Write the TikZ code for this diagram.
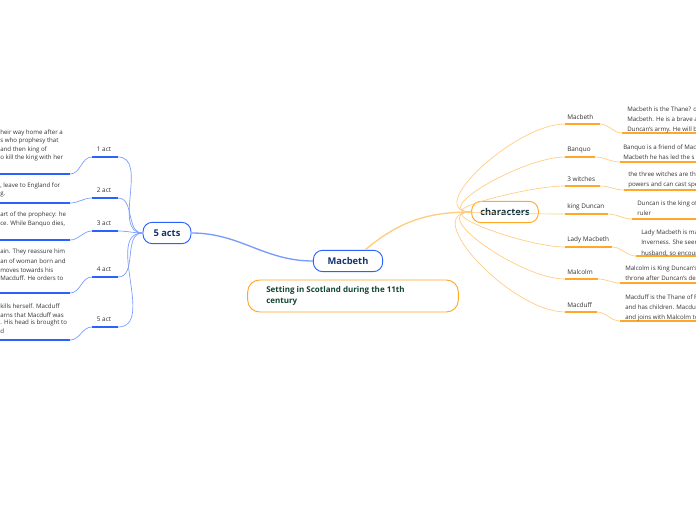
\documentclass[tikz,border=0pt]{standalone}
\usepackage{fontspec}
\setmainfont{Open Sans}
\begin{document}
\begin{tikzpicture}[x=0.75pt,y=-0.75pt,
 txt/.style={font=\fontsize{4.6}{5.5}\selectfont,inner sep=0pt,anchor=west,text=black!80},
 lbl/.style={font=\fontsize{4.8}{6}\selectfont,inner sep=0pt,text=black!80},
 bthick/.style={draw={rgb,255:red,41;green,98;blue,255},line width=1.4pt},
 bthin/.style={draw={rgb,255:red,120;green,155;blue,255},line width=0.5pt},
 othick/.style={draw={rgb,255:red,255;green,167;blue,38},line width=1.4pt},
 othin/.style={draw={rgb,255:red,255;green,204;blue,128},line width=0.5pt},
 mainbox/.style={draw,rounded corners=7pt,fill=white,line width=0.7pt,font=\fontsize{7}{8}\bfseries\selectfont}]
\fill[white] (0,0) rectangle (696,520);
\clip (0,0) rectangle (696,520);
% central
\node[mainbox,draw={rgb,255:red,41;green,98;blue,255},text={rgb,255:red,20;green,50;blue,110},minimum width=52pt,minimum height=16pt] (mac) at (348,261) {Macbeth};
\node[mainbox,draw={rgb,255:red,41;green,98;blue,255},text={rgb,255:red,20;green,50;blue,110},minimum width=36pt,minimum height=16pt] (acts) at (167,233) {5 acts};
\node[mainbox,draw={rgb,255:red,255;green,167;blue,38},text={rgb,255:red,20;green,50;blue,60},minimum width=50pt,minimum height=16pt] (chars) at (505,212) {characters};
\node[mainbox,draw={rgb,255:red,255;green,167;blue,38},text={rgb,255:red,20;green,70;blue,50},minimum width=158pt,minimum height=24pt,rounded corners=9pt] (set) at (353,296) {};
\node[anchor=west,align=left,inner sep=0pt,font=\fontsize{6}{8}\bfseries\selectfont,text={rgb,255:red,20;green,70;blue,50}] (settxt) at (266,296) {Setting in Scotland during  the 11th\\century};
\draw[othin,line width=1pt] (mac.north east) ++(-18,0) coordinate (mo) (mo) to[out=40,in=180] (chars.west);
\draw[bthin,line width=1pt] (mac.west) to[out=180,in=0] (acts.east);
% acts
\foreach \n/\y/\ty/\tl in {1/149/174/0,2/190/203/0,3/223/240/0,4/269/293/0,5/319/340/0}{
 \node[lbl] (a\n) at (104,\y) {\n{} act};
 \coordinate (a\n r) at (118,\y+8);
 \coordinate (a\n l) at (92,\y+8);
 \coordinate (t\n) at (70,\ty);
 \coordinate (t\n l) at (0,\ty);
 \draw[bthin] (acts.west) to[out=180,in=0] (a\n r);
 \draw[bthick] (a\n r) -- (a\n l);
 \draw[bthin] (a\n l) to[out=180,in=0] (t\n);
 \draw[bthick] (t\n) -- (t\n l);
}
\node[txt] (x1) at (0,133) {heir way home after a};
\node[txt] (x1b) at (0,141) {s who prophesy that};
\node[txt] (x1c) at (0,150) {and then king of};
\node[txt] (x1d) at (0,158) {o kill the king with her};
\node[txt] (x2) at (0,186) {, leave  to England for};
\node[txt] (x2b) at (0,195) {g.};
\node[txt] (x3) at (0,215) {art of  the prophecy: he};
\node[txt] (x3b) at (0,224) {ce. While Banquo dies,};
\node[txt] (x4) at (0,252) {ain. They reassure him};
\node[txt] (x4b) at (0,261) {an of woman born and};
\node[txt] (x4c) at (0,270) {moves towards his};
\node[txt] (x4d) at (0,278) {Macduff. He orders to};
\node[txt] (x5) at (0,306) {kills herself. Macduff};
\node[txt] (x5b) at (0,315) {arns that Macduff was};
\node[txt] (x5c) at (0,323) {. His head is brought to};
\node[txt] (x5d) at (0,331) {d};
% characters
\foreach \n/\lab/\y/\ue/\dy/\ds in {1/Macbeth/117/600/133/622,2/Banquo/150/595/162/620,3/3 witches/179/600/190/624,4/king Duncan/207/608/219/632,5/Lady Macbeth/240/612/256/636,6/Malcolm/272/598/283/620,7/Macduff/305/597/321/620}{
 \node[lbl,anchor=west] (c\n) at (567,\y) {\lab};
 \coordinate (c\n l) at (565,\y+7);
 \coordinate (c\n r) at (\ue,\y+7);
 \coordinate (d\n l) at (\ds,\dy);
 \coordinate (d\n r) at (696,\dy);
 \draw[othin] (chars.west) to[out=180,in=180] (c\n l);
 \draw[othick] (c\n l) -- (c\n r);
 \draw[othin] (c\n r) to[out=0,in=180] (d\n l);
 \draw[othick] (d\n l) -- (d\n r);
}
\node[txt,align=left,font=\fontsize{4.6}{7.6}\selectfont] (e1) at (627,120) {Macbeth is the Thane? of\\Macbeth. He is a brave a\\Duncan's army. He will be};
\node[txt,align=left,font=\fontsize{4.6}{7.6}\selectfont] (e2) at (623,152) {Banquo is a friend of Mac\\Macbeth he has led the s};
\node[txt,align=left,font=\fontsize{4.6}{7.6}\selectfont] (e3) at (628,180) {the three witches are thr\\powers and can cast spe};
\node[txt,align=left,font=\fontsize{4.6}{7.6}\selectfont] (e4) at (637,208) {Duncan is the king of\\ruler};
\node[txt,align=left,font=\fontsize{4.6}{7.6}\selectfont] (e5) at (641,243) {Lady Macbeth is ma\\Inverness. She seen\\husband, so encour};
\node[txt,align=left,font=\fontsize{4.6}{7.6}\selectfont] (e6) at (625,273) {Malcolm  is King Duncan's\\throne after Duncan's dea};
\node[txt,align=left,font=\fontsize{4.6}{7.6}\selectfont] (e7) at (625,308) {Macduff is the Thane of Fi\\and has children. Macduff\\and joins with Malcolm to};
\end{tikzpicture}
\end{document}
